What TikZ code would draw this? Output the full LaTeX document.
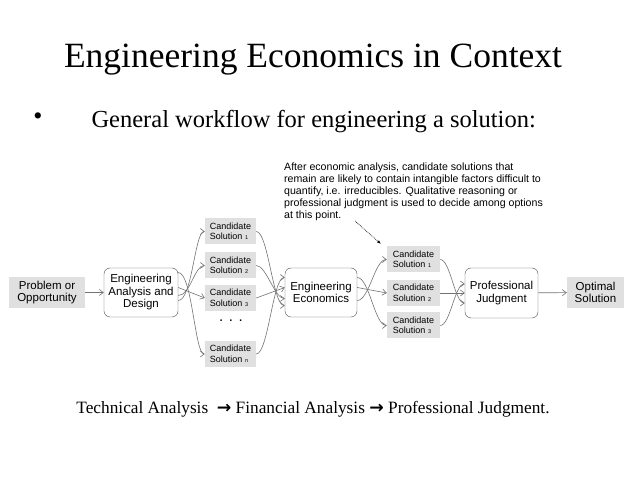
\documentclass[tikz,border=0pt]{standalone}
\usepackage{fontspec}
\setmainfont{Liberation Serif}
\newfontfamily\arialf{Liberation Sans}
\newfontfamily\djv{DejaVu Sans}
\usetikzlibrary{arrows.meta}
\begin{document}
\begin{tikzpicture}[x=1pt,y=-1pt,
  gbox/.style={fill=black!12,inner sep=0pt,font=\arialf\fontsize{11.5}{12.5}\selectfont,align=center},
  cbox/.style={fill=black!12,inner sep=0pt,font=\arialf\fontsize{9}{10.5}\selectfont,align=left,minimum width=51pt,minimum height=26pt},
  rbox/.style={draw=black!70,rounded corners=6pt,inner sep=0pt,font=\arialf\fontsize{11.5}{12.5}\selectfont,align=center,minimum width=74pt,minimum height=49pt},
  arr/.style={draw=black!55,-{Straight Barb[length=4pt,width=6pt]},line width=0.6pt}]
\useasboundingbox (0,0) rectangle (638,478);
\node[font=\fontsize{35.5}{38}\selectfont] (title) at (313,60) {Engineering Economics in Context};
\node[font=\fontsize{26}{28}\selectfont] (bul) at (38,119) {•};
\node[anchor=west,font=\fontsize{24.5}{28}\selectfont] (sub) at (88,122) {General workflow for engineering a solution:};
\node[gbox,minimum width=76pt,minimum height=31pt] (prob) at (47,292.5) {Problem or\\Opportunity};
\node[rbox] (ead) at (141,292.5) {Engineering\\Analysis and\\Design};
\node[cbox] (c1) at (230.5,231.5) {Candidate\\Solution {\fontsize{5.5}{5}\selectfont 1}};
\node[cbox] (c2) at (230.5,265.5) {Candidate\\Solution {\fontsize{5.5}{5}\selectfont 2}};
\node[cbox] (c3) at (230.5,298) {Candidate\\Solution {\fontsize{5.5}{5}\selectfont 3}};
\node[font=\arialf\fontsize{15}{15}\selectfont] (dots) at (231,321) {. . .};
\node[cbox] (cn) at (230.5,354) {Candidate\\Solution {\fontsize{5.5}{5}\selectfont n}};
\node[rbox,minimum width=72pt] (ee) at (321,292.5) {Engineering\\Economics};
\node[cbox,minimum width=53pt] (d1) at (413.5,259.5) {Candidate\\Solution {\fontsize{5.5}{5}\selectfont 1}};
\node[cbox,minimum width=53pt] (d2) at (413.5,293) {Candidate\\Solution {\fontsize{5.5}{5}\selectfont 2}};
\node[cbox,minimum width=53pt] (d3) at (413.5,325.5) {Candidate\\Solution {\fontsize{5.5}{5}\selectfont 3}};
\node[rbox,minimum width=73pt,minimum height=50pt] (pj) at (501.5,293) {Professional\\Judgment};
\node[gbox,minimum width=57pt,minimum height=31pt] (opt) at (595.5,292.5) {Optimal\\Solution};
\node[anchor=north west,inner sep=0pt,align=left,font=\arialf\fontsize{10.6}{12}\selectfont] (note) at (284,163) {After economic analysis, candidate solutions that\\remain are likely to contain intangible factors difficult to\\quantify, i.e. irreducibles. Qualitative reasoning or\\professional judgment is used to decide among options\\at this point.};
\coordinate (ns) at (355,221);
\coordinate (ne) at (381,244);
\draw[densely dotted,line width=0.7pt,-{Latex[length=4pt]}] (ns) -- (ne);
\draw[arr] (prob) -- (ead);
\draw[arr] ([yshift=-8pt]ead.east) .. controls +(14,0) and +(-10,0) .. (c1.west);
\draw[arr] ([yshift=-3pt]ead.east) .. controls +(12,0) and +(-10,0) .. (c2.west);
\draw[arr] ([yshift=5pt]ead.east) -- (c3.west);
\draw[arr] ([yshift=20pt]ead.east) .. controls +(14,0) and +(-10,0) .. (cn.west);
\draw[arr] (c1.east) .. controls +(12,0) and +(-12,0) .. ([yshift=-13pt]ee.west);
\draw[arr] (c2.east) .. controls +(10,0) and +(-10,0) .. ([yshift=-6pt]ee.west);
\draw[arr] (c3.east) -- ([yshift=5pt]ee.west);
\draw[arr] (cn.east) .. controls +(12,0) and +(-12,0) .. ([yshift=15pt]ee.west);
\draw[arr] ([yshift=-8pt]ee.east) .. controls +(12,0) and +(-12,0) .. (d1.west);
\draw[arr] ([yshift=5pt]ee.east) -- (d2.west);
\draw[arr] ([yshift=15pt]ee.east) .. controls +(12,0) and +(-12,0) .. (d3.west);
\draw[arr] (d1.east) .. controls +(10,0) and +(-10,0) .. ([yshift=-10pt]pj.west);
\draw[arr] (d2.east) -- (pj.west);
\draw[arr] (d3.east) .. controls +(10,0) and +(-10,0) .. ([yshift=9pt]pj.west);
\draw[arr] (pj) -- (opt);
\node[font=\fontsize{17.3}{20}\selectfont] (bottom) at (313,409) {Technical Analysis \ {\djv\bfseries →} Financial Analysis {\djv\bfseries →} Professional Judgment.};
\end{tikzpicture}
\end{document}
